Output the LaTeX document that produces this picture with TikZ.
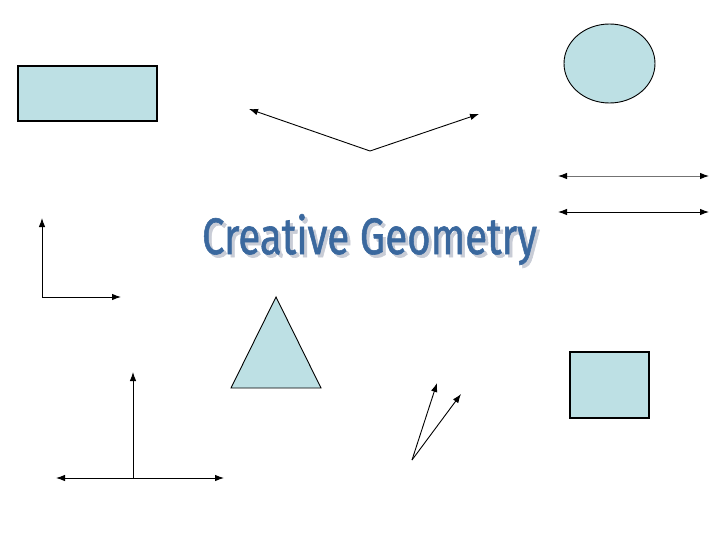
\documentclass[tikz,border=0pt]{standalone}
\usepackage{fontspec}
\setmainfont{Fira Sans}
\newfontfamily\titlefont[FakeBold=1.2]{Fira Sans}
\usepackage{graphicx}
\usetikzlibrary{arrows.meta}

\definecolor{shapefill}{RGB}{189,224,228}
\definecolor{titleblue}{RGB}{58,104,158}
\definecolor{titleshadow}{RGB}{200,204,214}

\tikzset{
  solid shape/.style={draw=black,fill=shapefill,line width=1.2pt},
  ray/.style={line width=0.9pt,-{Latex[length=9pt,width=6.5pt,color=black]}},
  twoway/.style={line width=0.9pt,{Latex[length=9pt,width=6.5pt,color=black]}-{Latex[length=9pt,width=6.5pt,color=black]}},
}

\begin{document}
\begin{tikzpicture}[x=1pt,y=-1pt]
  \useasboundingbox[fill=white] (0,0) rectangle (728,546);

  % filled shapes
  \draw[solid shape] (18,66) rectangle (157,121);
  \draw[solid shape,line width=0.9pt] (609.5,63.5) ellipse (45.5 and 39.5);
  \draw[solid shape,line width=0.9pt] (276,297) -- (321,388) -- (231,388) -- cycle;
  \draw[solid shape] (570,352) rectangle (649,418);

  % points for the rays
  \coordinate (vl) at (249,109);
  \coordinate (vb) at (370,151);
  \coordinate (vr) at (479,114);
  \coordinate (la) at (42,218);
  \coordinate (lo) at (42,297);
  \coordinate (lb) at (121,297);
  \coordinate (ta) at (56,478);
  \coordinate (tb) at (224,478);
  \coordinate (to) at (133,478);
  \coordinate (tt) at (133,372);
  \coordinate (ao) at (412,460);
  \coordinate (a1) at (437,383);
  \coordinate (a2) at (461,394);
  \coordinate (p1a) at (558,176);
  \coordinate (p1b) at (709,176);
  \coordinate (p2a) at (558,212);
  \coordinate (p2b) at (709,212);

  \draw[ray] (vb) -- (vl);
  \draw[ray] (vb) -- (vr);
  \draw[ray] (lo) -- (la);
  \draw[ray] (lo) -- (lb);
  \draw[twoway] (ta) -- (tb);
  \draw[ray] (to) -- (tt);
  \draw[ray] (ao) -- (a1);
  \draw[ray] (ao) -- (a2);
  \draw[twoway,draw=black!55] (p1a) -- (p1b);
  \draw[twoway] (p2a) -- (p2b);

  % title
  \node[inner sep=0pt,text=titleshadow] (shadow) at (372.5,242.5)
    {\resizebox*{335pt}{51pt}{\titlefont Creative Geometry}};
  \node[inner sep=0pt,text=titleblue] (title) at (369.5,239.5)
    {\resizebox*{335pt}{51pt}{\titlefont Creative Geometry}};
\end{tikzpicture}
\end{document}
